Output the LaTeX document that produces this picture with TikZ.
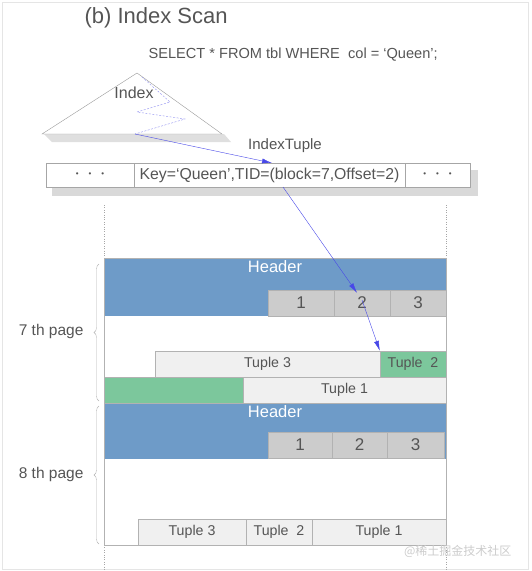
\documentclass[tikz,border=0pt]{standalone}
\usepackage{fontspec}
\setmainfont{Liberation Sans}
\newfontfamily\cjk{Noto Sans CJK SC}
\usetikzlibrary{positioning,decorations.pathreplacing,arrows.meta}
\definecolor{hdrblue}{HTML}{6E9BC8}
\definecolor{tupgreen}{HTML}{7CC79C}
\definecolor{txtgray}{HTML}{555555}
\definecolor{ptrblue}{HTML}{4848E8}
\newcommand{\threedots}{{\fontsize{8}{8}\selectfont •\hspace{10pt}•\hspace{10pt}•}}
\tikzset{
  cell/.style={draw=gray!60, inner sep=0pt, minimum height=26pt, text=txtgray, font=\fontsize{14.2}{14.2}\selectfont},
  tuplebox/.style={cell, fill=gray!12},
  greenbox/.style={cell, fill=tupgreen},
  ptrbox/.style={cell, fill=gray!40, font=\fontsize{17}{17}\selectfont},
  hdrbox/.style={fill=hdrblue, inner sep=0pt, minimum width=342pt},
  hdrtext/.style={text=white, font=\fontsize{16.5}{16.5}\selectfont, inner sep=0pt},
  keybox/.style={draw=gray!70, fill=white, inner sep=0pt, minimum height=24pt, text=txtgray, font=\fontsize{15.8}{15.8}\selectfont},
  pagebrace/.style={draw=gray!60, decorate, decoration={brace, amplitude=5pt}},
  guide/.style={draw=gray!70, dotted},
  ptrarrow/.style={draw=ptrblue, -{Latex[length=10pt,width=5pt]}},
}
\begin{document}
\begin{tikzpicture}[x=1pt, y=-1pt]
\useasboundingbox (0,0) rectangle (531,571);
\draw[gray!20] (2,2) rectangle (528,569);
% title and query
\node[text=txtgray, font=\fontsize{22}{22}\selectfont, anchor=west] (title) at (81,18) {(b) Index Scan};
\node[text=txtgray, font=\fontsize{14.6}{14.6}\selectfont, anchor=west] (query) at (145,55) {SELECT * FROM tbl WHERE\ \ col = ‘Queen’;};
% index tree
\fill[gray!25] (44,134) -- (224,134) -- (231,142) -- (52,142) -- cycle;
\draw[gray!80, fill=white] (137,73) -- (222,134) -- (42,134) -- cycle;
\node[text=txtgray, font=\fontsize{16}{16}\selectfont] (index) at (134,93) {Index};
\coordinate (leaf) at (135,134);
\draw[ptrblue!60, dash pattern=on 2pt off 1.5pt] (142,77) -- (170,102) -- (137,112) -- (185,119) -- (leaf);
% index tuple row
\fill[gray!30] (52,170) rectangle (478,196);
\node[keybox, minimum width=88pt] (k1) at (90,175) {\threedots};
\node[keybox, minimum width=271pt] (k2) at (269.5,175) {Key=‘Queen’,TID=(block=7,Offset=2)};
\node[keybox, minimum width=65pt] (k3) at (437.5,175) {\threedots};
\node[text=txtgray, font=\fontsize{15}{15}\selectfont] (itlabel) at (285,146) {IndexTuple};
\coordinate (kin) at (272,163);
\coordinate (kout) at (283,187);
% guide lines
\draw[guide] (104,205) -- (104,258);
\draw[guide] (446,205) -- (446,258);
\draw[guide] (104,545) -- (104,571);
\draw[guide] (446,545) -- (446,571);
% 7th page
\node[hdrbox, minimum height=58pt] (h7) at (275,287) {};
\node[hdrtext, below=3pt of h7.north] (h7t) {Header};
\node[ptrbox, minimum width=66pt] (p71) at (301,303) {1};
\node[ptrbox, minimum width=56pt] (p72) at (362,303) {2};
\node[ptrbox, minimum width=56pt] (p73) at (418,303) {3};
\node[tuplebox, minimum width=225pt] (t73) at (267.5,364) {Tuple 3};
\node[greenbox, minimum width=66pt] (t72) at (413,364) {Tuple\ \ 2};
\node[greenbox, minimum width=139pt] (g7) at (173.5,390) {};
\node[tuplebox, minimum width=203pt] (t71) at (344.5,390) {Tuple 1};
\draw[gray!60] (104,258) rectangle (446,403);
% 8th page
\node[hdrbox, minimum height=56pt] (h8) at (275,431) {};
\node[hdrtext, below=3pt of h8.north] (h8t) {Header};
\node[ptrbox, minimum width=64pt] (p81) at (300,445) {1};
\node[ptrbox, minimum width=55pt] (p82) at (359.5,445) {2};
\node[ptrbox, minimum width=57pt] (p83) at (415.5,445) {3};
\node[tuplebox, minimum width=108pt] (t83) at (192,532) {Tuple 3};
\node[tuplebox, minimum width=66pt] (t82) at (279,532) {Tuple\ \ 2};
\node[tuplebox, minimum width=134pt] (t81) at (379,532) {Tuple 1};
\draw[gray!60] (104,403) rectangle (446,545);
% braces
\draw[pagebrace] (99,401) -- (99,264);
\draw[pagebrace] (99,544) -- (99,406);
\node[text=txtgray, font=\fontsize{15.5}{15.5}\selectfont, anchor=east] (pg7) at (87,331) {7 th page};
\node[text=txtgray, font=\fontsize{15.5}{15.5}\selectfont, anchor=east] (pg8) at (87,474) {8 th page};
% pointers
\draw[ptrarrow] (leaf) -- (kin);
\draw[ptrarrow] (kout) -- ([xshift=-5pt, yshift=-3pt]p72.north);
\draw[ptrarrow] ([yshift=3pt]p72.center) -- (t72.north west);
% watermark
\node[text=gray!40, font=\cjk\fontsize{12}{12}\selectfont, anchor=east] (wm) at (515,551) {@稀土掘金技术社区};
\end{tikzpicture}
\end{document}
